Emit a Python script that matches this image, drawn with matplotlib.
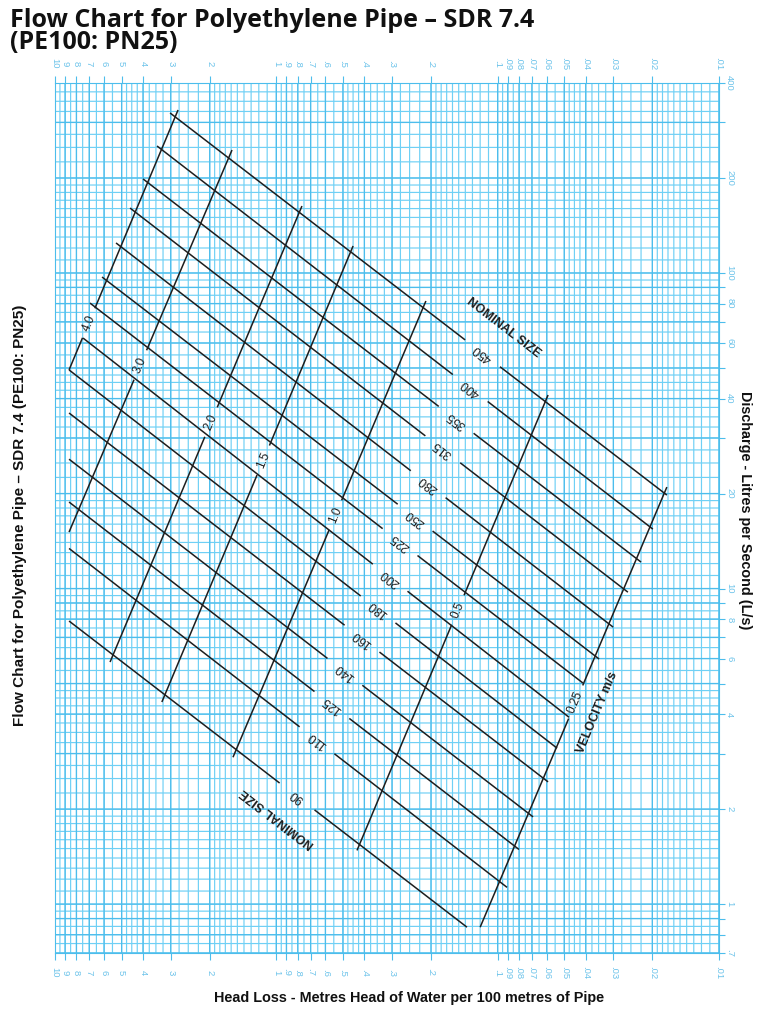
import numpy as np
import matplotlib
matplotlib.use('Agg')
import matplotlib.pyplot as plt
from matplotlib.ticker import FixedLocator, FixedFormatter, NullLocator

# ---------------- data ----------------
sizes = ['90', '110', '125', '140', '160', '180', '200', '225', '250', '280', '315', '355', '400', '450']
pipe_h_start = [8.64, 8.64, 8.64, 8.64, 8.64, 8.64, 7.47, 6.95, 6.13, 5.30, 4.58, 4.00, 3.46, 3.02]
pipe_q_start = [7.89, 13.4, 18.8, 25.7, 36.0, 49.3, 62.2, 80.3, 97.1, 124.5, 160.6, 198.6, 252.6, 321.4]
pipe_h_end = [0.1376, 0.0907, 0.0801, 0.0692, 0.0592, 0.0539, 0.0476, 0.0412, 0.0348, 0.0301, 0.0258, 0.0225, 0.0199, 0.0172]
pipe_q_end = [0.845, 1.13, 1.49, 1.89, 2.44, 3.12, 3.91, 5.02, 5.98, 7.55, 9.74, 12.13, 15.43, 19.78]
pipe_label_h = [0.806, 0.655, 0.561, 0.490, 0.410, 0.347, 0.306, 0.276, 0.236, 0.206, 0.177, 0.154, 0.133, 0.117]

velocities = ['4.0', '3.0', '2.0', '1.5', '1.0', '0.5', '0.25']
vel_h_bot = [8.64, 8.64, 5.64, 3.29, 1.57, 0.432, 0.120]
vel_q_bot = [49.3, 15.1, 5.85, 4.37, 2.92, 1.48, 0.845]
vel_h_top = [2.78, 1.586, 0.766, 0.450, 0.211, 0.0592, 0.0172]
vel_q_top = [328.5, 245.3, 163.0, 121.8, 81.5, 41.05, 20.97]
vel_label_q = [69.4, 51.1, 33.7, 25.5, 17.1, 8.55, 4.37]

x_tick_values = [10, 9, 8, 7, 6, 5, 4, 3, 2, 1, 0.9, 0.8, 0.7, 0.6, 0.5, 0.4, 0.3, 0.2,
                 0.1, 0.09, 0.08, 0.07, 0.06, 0.05, 0.04, 0.03, 0.02, 0.01]
x_tick_labels = ['10', '9', '8', '7', '6', '5', '4', '3', '2', '1', '.9', '.8', '.7', '.6', '.5', '.4', '.3', '.2',
                 '.1', '.09', '.08', '.07', '.06', '.05', '.04', '.03', '.02', '.01']
y_tick_values = [400, 300, 200, 100, 90, 80, 70, 60, 50, 40, 30, 20, 10, 9, 8, 7, 6, 5, 4, 3, 2, 1, 0.9, 0.8, 0.7]
y_tick_labels = ['400', '', '200', '100', '', '80', '', '60', '', '40', '', '20', '10', '', '8', '', '6', '', '4', '',
                 '2', '1', '', '', '.7']

title_text = 'Flow Chart for Polyethylene Pipe \u2013 SDR 7.4\n(PE100: PN25)'
side_title = 'Flow Chart for Polyethylene Pipe \u2013 SDR 7.4 (PE100: PN25)'
x_title = 'Head Loss - Metres Head of Water per 100 metres of Pipe'
y_title = 'Discharge - Litres per Second (L/s)'
nominal_top = (0.0946, 66.9)
nominal_bot = (0.983, 1.873)
velocity_title = (0.0356, 4.03)

# ---------------- styling ----------------
plt.rcParams['font.family'] = ['Liberation Sans', 'DejaVu Sans']
GRID_MINOR = '#6fd0f5'
GRID_MAJOR = '#4cbdec'
TICK_TXT = '#6cc3ea'
INK = '#1e1e1e'

fig = plt.figure(figsize=(7.68, 10.24), dpi=100)
fig.patch.set_facecolor('white')
ax = fig.add_axes([55 / 768, (1024 - 953) / 1024, (719 - 55) / 768, (953 - 83) / 1024])
ax.set_xscale('log')
ax.set_yscale('log')
ax.set_xlim(10, 0.01)
ax.set_ylim(0.7, 400)


def subdivisions(e_lo, e_hi):
    vals = []
    for e in range(e_lo, e_hi + 1):
        b = 10.0 ** e
        vals += [round(m, 2) * b for m in np.arange(1.0, 1.95, 0.1)]
        vals += [round(m, 2) * b for m in np.arange(2.0, 4.9, 0.25)]
        vals += [round(m, 2) * b for m in np.arange(5.0, 9.9, 0.5)]
    return vals


def majors(e_lo, e_hi):
    return [m * 10.0 ** e for e in range(e_lo, e_hi + 1) for m in range(1, 10)]


xs_minor = [v for v in subdivisions(-2, 0) if 0.01 <= v <= 10]
ys_minor = [v for v in subdivisions(-1, 2) if 0.7 <= v <= 400]
xs_major = [v for v in majors(-2, 1) if 0.01 <= v <= 10]
ys_major = [v for v in majors(-1, 2) if 0.7 <= v <= 400]
ax.vlines(xs_minor, 0.7, 400, colors=GRID_MINOR, lw=0.85, zorder=0.3, snap=False)
ax.hlines(ys_minor, 0.01, 10, colors=GRID_MINOR, lw=0.85, zorder=0.3, snap=False)
ax.vlines(xs_major, 0.7, 400, colors=GRID_MAJOR, lw=0.9, zorder=0.5, snap=False)
ax.hlines(ys_major, 0.01, 10, colors=GRID_MAJOR, lw=0.9, zorder=0.5, snap=False)

ax.xaxis.set_minor_locator(NullLocator())
ax.yaxis.set_minor_locator(NullLocator())
ax.xaxis.set_major_locator(FixedLocator(x_tick_values))
ax.xaxis.set_major_formatter(FixedFormatter(x_tick_labels))
ax.yaxis.set_major_locator(FixedLocator(y_tick_values))
ax.yaxis.set_major_formatter(FixedFormatter(y_tick_labels))
ax.tick_params(axis='x', which='major', top=True, bottom=True, labeltop=True, labelbottom=True,
               direction='out', length=5, width=0.8, color=GRID_MAJOR, labelcolor=TICK_TXT,
               labelsize=6.8, labelrotation=-90, pad=9)
ax.tick_params(axis='y', which='major', left=False, right=True, labelleft=False, labelright=True,
               direction='out', length=4, width=0.8, color=GRID_MAJOR, labelcolor=TICK_TXT,
               labelsize=6.8, labelrotation=-90, pad=0.5)
for t in ax.xaxis.get_major_ticks():
    t.label1.set_va('center')
    t.label2.set_va('center')
for t in ax.yaxis.get_major_ticks():
    t.label2.set_ha('left')
    t.label2.set_va('center')
for s in ax.spines.values():
    s.set_color(GRID_MAJOR)
    s.set_linewidth(0.8)

T = ax.transData
inv = T.inverted()


def draw_gapped(p0, p1, tc, gap, **kw):
    d0 = T.transform(p0)
    d1 = T.transform(p1)
    L = np.hypot(*(d1 - d0))
    tg = gap / L
    for a, b in ((0.0, tc - tg), (tc + tg, 1.0)):
        seg = inv.transform(np.array([d0 + (d1 - d0) * a, d0 + (d1 - d0) * b]))
        ax.plot(seg[:, 0], seg[:, 1], **kw)
    c = inv.transform(d0 + (d1 - d0) * tc)
    ang = np.degrees(np.arctan2(d1[1] - d0[1], d1[0] - d0[0]))
    return c, ang


pipe_angle = 0.0
for s, h0, q0, h1, q1, hl in zip(sizes, pipe_h_start, pipe_q_start, pipe_h_end, pipe_q_end, pipe_label_h):
    tc = (np.log10(hl) - np.log10(h0)) / (np.log10(h1) - np.log10(h0))
    c, ang = draw_gapped((h0, q0), (h1, q1), tc, 22, color=INK, lw=1.1, solid_capstyle='butt', zorder=3)
    pipe_angle = ang
    ax.text(c[0], c[1], s, rotation=ang + 180, rotation_mode='anchor', ha='center', va='center',
            fontsize=9, color=INK, zorder=4)

vel_angle = 0.0
for v, h0, q0, h1, q1, ql in zip(velocities, vel_h_bot, vel_q_bot, vel_h_top, vel_q_top, vel_label_q):
    tc = (np.log10(ql) - np.log10(q0)) / (np.log10(q1) - np.log10(q0))
    gap = 18 if len(v) > 3 else 16
    c, ang = draw_gapped((h0, q0), (h1, q1), tc, gap, color=INK, lw=1.1, solid_capstyle='butt', zorder=3)
    ax.text(c[0], c[1], v, rotation=ang, rotation_mode='anchor', ha='center', va='center',
            fontsize=8.5, color=INK, zorder=4)
    vel_angle = ang

ax.text(nominal_top[0], nominal_top[1], 'NOMINAL SIZE', rotation=pipe_angle, rotation_mode='anchor',
        ha='center', va='center', fontsize=9, fontweight='bold', color=INK, zorder=4)
ax.text(nominal_bot[0], nominal_bot[1], 'NOMINAL SIZE', rotation=pipe_angle + 180, rotation_mode='anchor',
        ha='center', va='center', fontsize=9, fontweight='bold', color=INK, zorder=4)
ax.text(velocity_title[0], velocity_title[1], 'VELOCITY m/s', rotation=vel_angle, rotation_mode='anchor',
        ha='center', va='center', fontsize=9, fontweight='bold', color=INK, zorder=4)

# titles
fig.text(10 / 768, 1 - 8 / 1024, title_text, fontsize=18, fontweight='bold',
         family=['Open Sans', 'DejaVu Sans'], ha='left', va='top', linespacing=0.82, color='#111111')
fig.text(20 / 768, 1 - 515 / 1024, side_title, rotation=90, fontsize=11, fontweight='bold',
         ha='center', va='center', color='#111111')
fig.text(745 / 768, 1 - 510 / 1024, y_title, rotation=-90, fontsize=10.4, fontweight='bold',
         ha='center', va='center', color='#111111')
fig.text(409 / 768, 1 - 998 / 1024, x_title, fontsize=10.4, fontweight='bold',
         ha='center', va='center', color='#111111')

fig.savefig('out.png', dpi=100, facecolor='white')
